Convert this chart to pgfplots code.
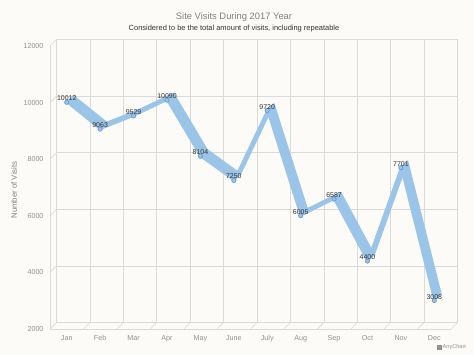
\documentclass[border=0pt]{standalone}
\usepackage{pgfplots}
\usepackage{pgfplotstable}
\pgfplotsset{compat=1.18}
\usepackage{fontspec}
\setmainfont{Liberation Sans}
\definecolor{bg}{RGB}{252,251,248}
\definecolor{gridc}{RGB}{218,218,216}
\definecolor{ribbon}{RGB}{155,196,233}
\definecolor{markc}{RGB}{108,158,210}
\definecolor{titlec}{RGB}{128,128,128}
\definecolor{tickc}{RGB}{145,145,145}
\definecolor{labc}{RGB}{50,50,50}

\pgfplotstableread{
x y
0 10012
1 9063
2 9529
3 10090
4 8104
5 7250
6 9720
7 6005
8 6587
9 4400
10 7701
11 3008
}\visits

\begin{document}
\begin{tikzpicture}[x=1bp,y=1bp]
\fill[bg] (0,0) rectangle (474,355);
\path[use as bounding box] (0,0) rectangle (474,355);

% back wall
\begin{axis}[at={(56.5bp,32.5bp)}, anchor=south west, scale only axis,
  width=401bp, height=283bp,
  xmin=-0.5, xmax=11.5, ymin=2000, ymax=12000,
  scaled ticks=false,
  xtick={-0.5,0.5,...,11.5}, ytick={2000,4000,...,12000},
  xticklabels={}, yticklabels={}, major tick length=0,
  grid=major, grid style={draw=gridc, line width=0.6bp},
  axis line style={draw=gridc, line width=0.6bp}]
\end{axis}

% front plane
\begin{axis}[at={(50bp,26bp)}, anchor=south west, scale only axis,
  width=401bp, height=283bp,
  xmin=-0.5, xmax=11.5, ymin=2000, ymax=12000,
  scaled ticks=false,
  axis x line=bottom, axis y line=left,
  axis line style={-, draw=gridc, line width=0.6bp},
  xtick={0,...,11},
  xticklabels={Jan,Feb,Mar,Apr,May,June,July,Aug,Sep,Oct,Nov,Dec},
  ytick={2000,4000,...,12000},
  major tick length=0,
  /pgf/number format/assume math mode=true,
  /pgf/number format/set thousands separator={},
  xticklabel style={font=\fontsize{7.2}{8}\selectfont, text=tickc, yshift=-3bp},
  yticklabel style={font=\fontsize{7.2}{8}\selectfont, text=tickc, xshift=-3bp},
  clip=false]
  % slanted connectors
  \pgfplotsinvokeforeach{2000,4000,6000,8000,10000,12000}{
    \draw[gridc, line width=0.6bp] (axis cs:-0.5,#1) -- ++(6.5bp,6.5bp);
  }
  \pgfplotsinvokeforeach{-0.5,0.5,1.5,2.5,3.5,4.5,5.5,6.5,7.5,8.5,9.5,10.5,11.5}{
    \draw[gridc, line width=0.6bp] (axis cs:#1,2000) -- ++(6.5bp,6.5bp);
  }
  % 3D ribbon
  \pgfplotsinvokeforeach{0,0.8,1.6,2.4,3.2,4.0,4.8,5.6,6.5}{
    \addplot[draw=ribbon, line width=1.8bp, line join=round, line cap=round,
      shift={(#1bp,#1bp)}, forget plot] table[x=x,y=y] {\visits};
  }
  \addplot[draw=none, mark=*, mark size=2.1bp,
    mark options={fill=ribbon, draw=markc, line width=0.8bp},
    point meta=explicit symbolic,
    nodes near coords,
    nodes near coords style={font=\fontsize{7}{8}\selectfont, text=labc,
      anchor=south, inner sep=0.5bp, yshift=0.5bp}]
    table[x=x,y=y,meta=y] {\visits};
\end{axis}

\node[text=titlec, font=\fontsize{9.4}{11}\selectfont] at (234,338.3) {Site Visits During 2017 Year};
\node[text=labc, font=\fontsize{7.5}{9}\selectfont] at (234,326.7) {Considered to be the total amount of visits, including repeatable};
\node[text=titlec, rotate=90, font=\fontsize{7.8}{9}\selectfont] at (14,165) {Number of Visits};
\fill[tickc] (437,5.3) rectangle (441.5,9.8);
\node[text=tickc, font=\fontsize{5.6}{6}\selectfont, anchor=west, inner sep=0] at (442.5,7.5) {AnyChart};
\end{tikzpicture}
\end{document}
